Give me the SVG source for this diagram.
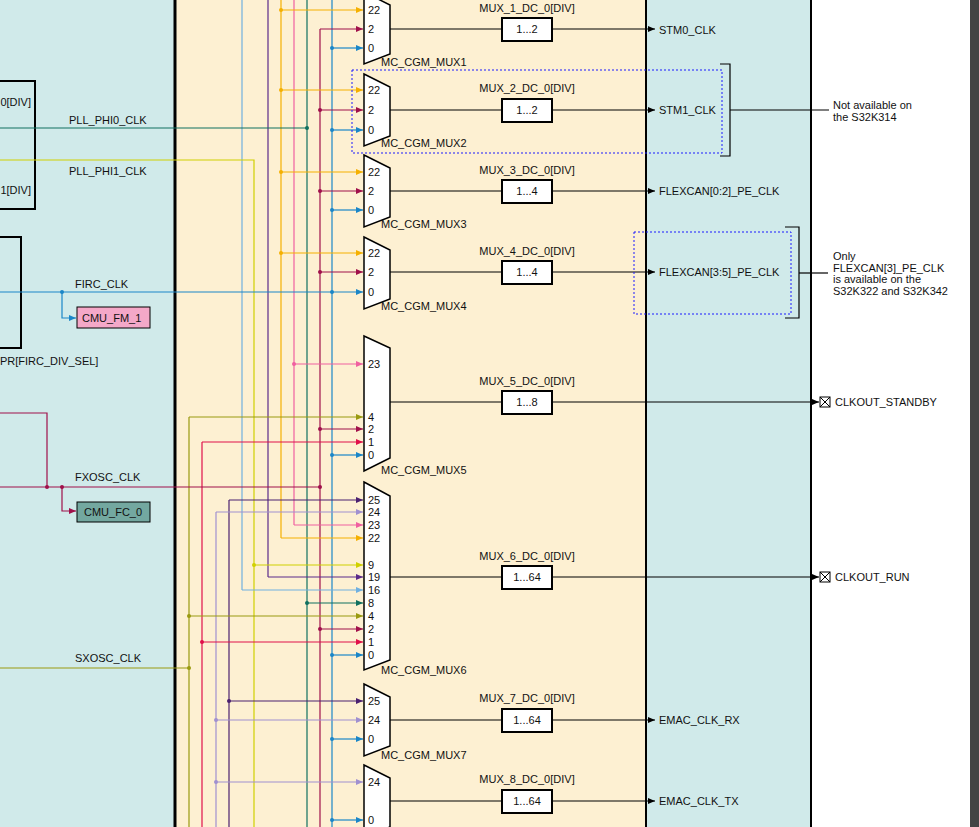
<svg xmlns="http://www.w3.org/2000/svg" width="979" height="827" viewBox="0 0 979 827">
<style>
text{font-family:"Liberation Sans",Arial,sans-serif;font-size:11px;fill:#111}
.n{font-size:11px}
.w{fill:none;stroke-width:1.2}
.mux{fill:#fff;stroke:#000;stroke-width:1.5}
.div{fill:#fff;stroke:#000;stroke-width:2}
.blk{stroke:#000;stroke-width:1.2;fill:none}
.dot{fill:#fff}
</style>
<defs>
<marker id="aK" markerWidth="8" markerHeight="8" refX="7" refY="4" orient="auto" markerUnits="userSpaceOnUse"><path d="M0,1 L7,4 L0,7z" fill="#000"/></marker>
<marker id="aB" markerWidth="8" markerHeight="8" refX="7" refY="4" orient="auto" markerUnits="userSpaceOnUse"><path d="M0,1 L7,4 L0,7z" fill="#1a86c8"/></marker>
<marker id="aC" markerWidth="8" markerHeight="8" refX="7" refY="4" orient="auto" markerUnits="userSpaceOnUse"><path d="M0,1 L7,4 L0,7z" fill="#a0104a"/></marker>
<marker id="aO" markerWidth="8" markerHeight="8" refX="7" refY="4" orient="auto" markerUnits="userSpaceOnUse"><path d="M0,1 L7,4 L0,7z" fill="#f5b000"/></marker>
<marker id="aP" markerWidth="8" markerHeight="8" refX="7" refY="4" orient="auto" markerUnits="userSpaceOnUse"><path d="M0,1 L7,4 L0,7z" fill="#f060a0"/></marker>
<marker id="aT" markerWidth="8" markerHeight="8" refX="7" refY="4" orient="auto" markerUnits="userSpaceOnUse"><path d="M0,1 L7,4 L0,7z" fill="#107060"/></marker>
<marker id="aL" markerWidth="8" markerHeight="8" refX="7" refY="4" orient="auto" markerUnits="userSpaceOnUse"><path d="M0,1 L7,4 L0,7z" fill="#70b0e0"/></marker>
<marker id="aU" markerWidth="8" markerHeight="8" refX="7" refY="4" orient="auto" markerUnits="userSpaceOnUse"><path d="M0,1 L7,4 L0,7z" fill="#5a2a8a"/></marker>
<marker id="aY" markerWidth="8" markerHeight="8" refX="7" refY="4" orient="auto" markerUnits="userSpaceOnUse"><path d="M0,1 L7,4 L0,7z" fill="#d0d000"/></marker>
<marker id="aV" markerWidth="8" markerHeight="8" refX="7" refY="4" orient="auto" markerUnits="userSpaceOnUse"><path d="M0,1 L7,4 L0,7z" fill="#9a9a10"/></marker>
<marker id="aR" markerWidth="8" markerHeight="8" refX="7" refY="4" orient="auto" markerUnits="userSpaceOnUse"><path d="M0,1 L7,4 L0,7z" fill="#e0104a"/></marker>
<marker id="aA" markerWidth="8" markerHeight="8" refX="7" refY="4" orient="auto" markerUnits="userSpaceOnUse"><path d="M0,1 L7,4 L0,7z" fill="#a090d0"/></marker>
<marker id="aD" markerWidth="8" markerHeight="8" refX="7" refY="4" orient="auto" markerUnits="userSpaceOnUse"><path d="M0,1 L7,4 L0,7z" fill="#4a2070"/></marker>
</defs>

<g id="background">
<rect x="0" y="0" width="175" height="827" fill="#d0eaea"/>
<rect x="175" y="0" width="471" height="827" fill="#fdf0d2"/>
<rect x="646" y="0" width="165" height="827" fill="#d0eaea"/>
<rect x="811" y="0" width="159" height="827" fill="#fff"/>
<rect x="970" y="0" width="9" height="827" fill="#444"/>
<line x1="175" y1="0" x2="175" y2="827" stroke="#000" stroke-width="3"/>
<line x1="646" y1="0" x2="646" y2="827" stroke="#000" stroke-width="2"/>
<line x1="811" y1="0" x2="811" y2="827" stroke="#000" stroke-width="2"/>
</g>

<g id="left-blocks">
<rect x="-10" y="81" width="45" height="128" fill="none" stroke="#000" stroke-width="2"/>
<text x="31" y="106" text-anchor="end">0[DIV]</text>
<text x="31" y="194" text-anchor="end">1[DIV]</text>
<rect x="-10" y="237" width="31" height="111" fill="none" stroke="#000" stroke-width="2"/>
<text x="0" y="365">PR[FIRC_DIV_SEL]</text>
</g>
<g id="cmu_fm_1"><rect x="77" y="307" width="73" height="21" fill="#f4a8c8" stroke="#000"/><text x="82" y="322">CMU_FM_1</text></g>
<g id="cmu_fc_0"><rect x="77" y="502" width="73" height="20" fill="#73a8a0" stroke="#000"/><text x="84" y="516">CMU_FC_0</text></g>

<g id="connectors">
<!-- vertical buses -->
<g class="w">
<line x1="242" y1="0" x2="242" y2="590" stroke="#70b0e0"/>
<polyline points="0,160 254,160 254,827" stroke="#d0d000"/>
<line x1="268" y1="0" x2="268" y2="577" stroke="#5a2a8a"/>
<line x1="281" y1="0" x2="281" y2="538" stroke="#f5b000"/>
<line x1="294" y1="0" x2="294" y2="525" stroke="#f060a0"/>
<line x1="307" y1="0" x2="307" y2="827" stroke="#107060"/>
<line x1="320" y1="29" x2="320" y2="827" stroke="#a0104a"/>
<line x1="332" y1="0" x2="332" y2="827" stroke="#1a86c8"/>
<line x1="189" y1="417" x2="189" y2="827" stroke="#9a9a10"/>
<line x1="202" y1="442" x2="202" y2="827" stroke="#e0104a"/>
<line x1="216" y1="512" x2="216" y2="827" stroke="#a090d0"/>
<line x1="229" y1="500" x2="229" y2="827" stroke="#4a2070"/>
<!-- left sources -->
<line x1="0" y1="128" x2="307" y2="128" stroke="#107060"/>
<line x1="0" y1="487" x2="320" y2="487" stroke="#a0104a"/>
<polyline points="0,413 47,413 47,487" stroke="#a0104a"/>
<line x1="0" y1="668" x2="189" y2="668" stroke="#9a9a10"/>
<polyline points="62,292 62,318 76,318" stroke="#1a86c8" marker-end="url(#aB)"/>
<polyline points="62,487 62,511 76,511" stroke="#a0104a" marker-end="url(#aC)"/>
<!-- mux inputs -->
<line x1="281" y1="10" x2="363" y2="10" stroke="#f5b000" marker-end="url(#aO)"/>
<line x1="320" y1="29" x2="363" y2="29" stroke="#a0104a" marker-end="url(#aC)"/>
<line x1="332" y1="48" x2="363" y2="48" stroke="#1a86c8" marker-end="url(#aB)"/>
<line x1="281" y1="90" x2="363" y2="90" stroke="#f5b000" marker-end="url(#aO)"/>
<line x1="320" y1="110" x2="363" y2="110" stroke="#a0104a" marker-end="url(#aC)"/>
<line x1="332" y1="130" x2="363" y2="130" stroke="#1a86c8" marker-end="url(#aB)"/>
<line x1="281" y1="172" x2="363" y2="172" stroke="#f5b000" marker-end="url(#aO)"/>
<line x1="320" y1="191" x2="363" y2="191" stroke="#a0104a" marker-end="url(#aC)"/>
<line x1="332" y1="210" x2="363" y2="210" stroke="#1a86c8" marker-end="url(#aB)"/>
<line x1="281" y1="253" x2="363" y2="253" stroke="#f5b000" marker-end="url(#aO)"/>
<line x1="320" y1="272" x2="363" y2="272" stroke="#a0104a" marker-end="url(#aC)"/>
<line x1="0" y1="292" x2="363" y2="292" stroke="#1a86c8" marker-end="url(#aB)"/>
<line x1="294" y1="364" x2="363" y2="364" stroke="#f060a0" marker-end="url(#aP)"/>
<line x1="189" y1="417" x2="363" y2="417" stroke="#9a9a10" marker-end="url(#aV)"/>
<line x1="320" y1="429" x2="363" y2="429" stroke="#a0104a" marker-end="url(#aC)"/>
<line x1="202" y1="442" x2="363" y2="442" stroke="#e0104a" marker-end="url(#aR)"/>
<line x1="332" y1="455" x2="363" y2="455" stroke="#1a86c8" marker-end="url(#aB)"/>
<line x1="229" y1="500" x2="363" y2="500" stroke="#4a2070" marker-end="url(#aD)"/>
<line x1="216" y1="512" x2="363" y2="512" stroke="#a090d0" marker-end="url(#aA)"/>
<line x1="294" y1="525" x2="363" y2="525" stroke="#f060a0" marker-end="url(#aP)"/>
<line x1="281" y1="538" x2="363" y2="538" stroke="#f5b000" marker-end="url(#aO)"/>
<line x1="254" y1="565" x2="363" y2="565" stroke="#d0d000" marker-end="url(#aY)"/>
<line x1="268" y1="577" x2="363" y2="577" stroke="#5a2a8a" marker-end="url(#aU)"/>
<line x1="242" y1="590" x2="363" y2="590" stroke="#70b0e0" marker-end="url(#aL)"/>
<line x1="307" y1="603" x2="363" y2="603" stroke="#107060" marker-end="url(#aT)"/>
<line x1="189" y1="616" x2="363" y2="616" stroke="#9a9a10" marker-end="url(#aV)"/>
<line x1="320" y1="629" x2="363" y2="629" stroke="#a0104a" marker-end="url(#aC)"/>
<line x1="202" y1="642" x2="363" y2="642" stroke="#e0104a" marker-end="url(#aR)"/>
<line x1="332" y1="655" x2="363" y2="655" stroke="#1a86c8" marker-end="url(#aB)"/>
<line x1="229" y1="701" x2="363" y2="701" stroke="#4a2070" marker-end="url(#aD)"/>
<line x1="216" y1="720" x2="363" y2="720" stroke="#a090d0" marker-end="url(#aA)"/>
<line x1="332" y1="739" x2="363" y2="739" stroke="#1a86c8" marker-end="url(#aB)"/>
<line x1="216" y1="782" x2="363" y2="782" stroke="#a090d0" marker-end="url(#aA)"/>
<line x1="332" y1="820" x2="363" y2="820" stroke="#1a86c8" marker-end="url(#aB)"/>
</g>
<!-- dots -->
<g>
<circle cx="307" cy="128" r="2" fill="#107060"/>
<circle cx="332" cy="292" r="2" fill="#1a86c8"/>
<circle cx="62" cy="292" r="2" fill="#1a86c8"/>
<circle cx="320" cy="487" r="2" fill="#a0104a"/>
<circle cx="47" cy="487" r="2" fill="#a0104a"/>
<circle cx="62" cy="487" r="2" fill="#a0104a"/>
<circle cx="189" cy="668" r="2" fill="#9a9a10"/>
<circle cx="281" cy="10" r="2" fill="#f5b000"/><circle cx="332" cy="48" r="2" fill="#1a86c8"/>
<circle cx="281" cy="90" r="2" fill="#f5b000"/><circle cx="320" cy="110" r="2" fill="#a0104a"/><circle cx="332" cy="130" r="2" fill="#1a86c8"/>
<circle cx="281" cy="172" r="2" fill="#f5b000"/><circle cx="320" cy="191" r="2" fill="#a0104a"/><circle cx="332" cy="210" r="2" fill="#1a86c8"/>
<circle cx="281" cy="253" r="2" fill="#f5b000"/><circle cx="320" cy="272" r="2" fill="#a0104a"/>
<circle cx="294" cy="364" r="2" fill="#f060a0"/><circle cx="320" cy="429" r="2" fill="#a0104a"/><circle cx="332" cy="455" r="2" fill="#1a86c8"/>
<circle cx="254" cy="565" r="2" fill="#d0d000"/><circle cx="307" cy="603" r="2" fill="#107060"/><circle cx="189" cy="616" r="2" fill="#9a9a10"/><circle cx="320" cy="629" r="2" fill="#a0104a"/><circle cx="202" cy="642" r="2" fill="#e0104a"/><circle cx="332" cy="655" r="2" fill="#1a86c8"/>
<circle cx="229" cy="701" r="2" fill="#4a2070"/><circle cx="216" cy="720" r="2" fill="#a090d0"/><circle cx="332" cy="739" r="2" fill="#1a86c8"/>
<circle cx="216" cy="782" r="2" fill="#a090d0"/><circle cx="332" cy="820" r="2" fill="#1a86c8"/>
</g>
<!-- outputs -->
<g stroke="#000" stroke-width="1.2" fill="none">
<line x1="390" y1="29" x2="501" y2="29"/><line x1="552" y1="29" x2="655" y2="29" marker-end="url(#aK)"/>
<line x1="390" y1="110" x2="501" y2="110"/><line x1="552" y1="110" x2="655" y2="110" marker-end="url(#aK)"/>
<line x1="390" y1="191" x2="501" y2="191"/><line x1="552" y1="191" x2="655" y2="191" marker-end="url(#aK)"/>
<line x1="390" y1="272" x2="501" y2="272"/><line x1="552" y1="272" x2="655" y2="272" marker-end="url(#aK)"/>
<line x1="390" y1="402" x2="501" y2="402"/><line x1="552" y1="402" x2="819" y2="402" marker-end="url(#aK)"/>
<line x1="390" y1="577" x2="501" y2="577"/><line x1="552" y1="577" x2="819" y2="577" marker-end="url(#aK)"/>
<line x1="390" y1="720" x2="501" y2="720"/><line x1="552" y1="720" x2="655" y2="720" marker-end="url(#aK)"/>
<line x1="390" y1="801" x2="501" y2="801"/><line x1="552" y1="801" x2="655" y2="801" marker-end="url(#aK)"/>
<polyline points="720,64 730,64 730,156 720,156"/>
<line x1="730" y1="110" x2="829" y2="110"/>
<polyline points="785,227 799,227 799,318 785,318"/>
<line x1="799" y1="273" x2="828" y2="273"/>
</g>
</g>

<g id="notes-boxes" fill="none" stroke="#1a1aff" stroke-width="1" stroke-dasharray="2,2">
<rect x="352" y="70" width="370" height="83"/>
<rect x="634" y="232" width="157" height="82"/>
</g>

<g id="mux1"><polygon class="mux" points="364,-8 390,5 390,54 364,64"/><text x="368" y="14">22</text><text x="368" y="33">2</text><text x="368" y="52">0</text><text x="381" y="66">MC_CGM_MUX1</text></g>
<g id="mux2"><polygon class="mux" points="364,74 390,87 390,136 364,146"/><text x="368" y="94">22</text><text x="368" y="114">2</text><text x="368" y="134">0</text><text x="381" y="147">MC_CGM_MUX2</text></g>
<g id="mux3"><polygon class="mux" points="364,155 390,168 390,217 364,227"/><text x="368" y="176">22</text><text x="368" y="195">2</text><text x="368" y="214">0</text><text x="381" y="228">MC_CGM_MUX3</text></g>
<g id="mux4"><polygon class="mux" points="364,237 390,250 390,299 364,309"/><text x="368" y="257">22</text><text x="368" y="276">2</text><text x="368" y="296">0</text><text x="381" y="310">MC_CGM_MUX4</text></g>
<g id="mux5"><polygon class="mux" points="364,336 390,348 390,458 364,471"/><text x="368" y="368">23</text><text x="368" y="421">4</text><text x="368" y="433">2</text><text x="368" y="446">1</text><text x="368" y="459">0</text><text x="381" y="474">MC_CGM_MUX5</text></g>
<g id="mux6"><polygon class="mux" points="364,482 390,496 390,660 364,670"/><text x="368" y="504">25</text><text x="368" y="516">24</text><text x="368" y="529">23</text><text x="368" y="542">22</text><text x="368" y="569">9</text><text x="368" y="581">19</text><text x="368" y="594">16</text><text x="368" y="607">8</text><text x="368" y="620">4</text><text x="368" y="633">2</text><text x="368" y="646">1</text><text x="368" y="659">0</text><text x="381" y="674">MC_CGM_MUX6</text></g>
<g id="mux7"><polygon class="mux" points="364,684 390,697 390,746 364,756"/><text x="368" y="705">25</text><text x="368" y="724">24</text><text x="368" y="743">0</text><text x="381" y="759">MC_CGM_MUX7</text></g>
<g id="mux8"><polygon class="mux" points="364,765 390,778 390,827 364,837"/><text x="368" y="786">24</text><text x="368" y="824">0</text></g>

<g id="dividers" text-anchor="middle">
<rect class="div" x="502" y="18" width="50" height="23"/><text x="527" y="33">1...2</text><text x="527" y="12">MUX_1_DC_0[DIV]</text>
<rect class="div" x="502" y="99" width="50" height="23"/><text x="527" y="114">1...2</text><text x="527" y="92">MUX_2_DC_0[DIV]</text>
<rect class="div" x="502" y="180" width="50" height="23"/><text x="527" y="195">1...4</text><text x="527" y="174">MUX_3_DC_0[DIV]</text>
<rect class="div" x="502" y="261" width="50" height="23"/><text x="527" y="276">1...4</text><text x="527" y="255">MUX_4_DC_0[DIV]</text>
<rect class="div" x="502" y="391" width="50" height="23"/><text x="527" y="406">1...8</text><text x="527" y="385">MUX_5_DC_0[DIV]</text>
<rect class="div" x="502" y="566" width="50" height="23"/><text x="527" y="581">1...64</text><text x="527" y="560">MUX_6_DC_0[DIV]</text>
<rect class="div" x="502" y="709" width="50" height="23"/><text x="527" y="724">1...64</text><text x="527" y="702">MUX_7_DC_0[DIV]</text>
<rect class="div" x="502" y="790" width="50" height="23"/><text x="527" y="805">1...64</text><text x="527" y="783">MUX_8_DC_0[DIV]</text>
</g>

<g id="labels">
<text x="69" y="124">PLL_PHI0_CLK</text>
<text x="69" y="175">PLL_PHI1_CLK</text>
<text x="75" y="288">FIRC_CLK</text>
<text x="75" y="481">FXOSC_CLK</text>
<text x="75" y="662">SXOSC_CLK</text>
<text x="659" y="34">STM0_CLK</text>
<text x="659" y="114">STM1_CLK</text>
<text x="659" y="195">FLEXCAN[0:2]_PE_CLK</text>
<text x="659" y="276">FLEXCAN[3:5]_PE_CLK</text>
<text x="659" y="724">EMAC_CLK_RX</text>
<text x="659" y="805">EMAC_CLK_TX</text>
<text x="833" y="109">Not available on</text>
<text x="833" y="121">the S32K314</text>
<text x="833" y="260">Only</text>
<text x="833" y="272">FLEXCAN[3]_PE_CLK</text>
<text x="833" y="283">is available on the</text>
<text x="833" y="295">S32K322 and S32K342</text>
</g>
<g id="clkout_standby"><rect x="820" y="397" width="10" height="10" fill="#fff" stroke="#000"/><path d="M820,397 L830,407 M830,397 L820,407" stroke="#000"/><text x="835" y="406">CLKOUT_STANDBY</text></g>
<g id="clkout_run"><rect x="820" y="572" width="10" height="10" fill="#fff" stroke="#000"/><path d="M820,572 L830,582 M830,572 L820,582" stroke="#000"/><text x="835" y="581">CLKOUT_RUN</text></g>
</svg>
